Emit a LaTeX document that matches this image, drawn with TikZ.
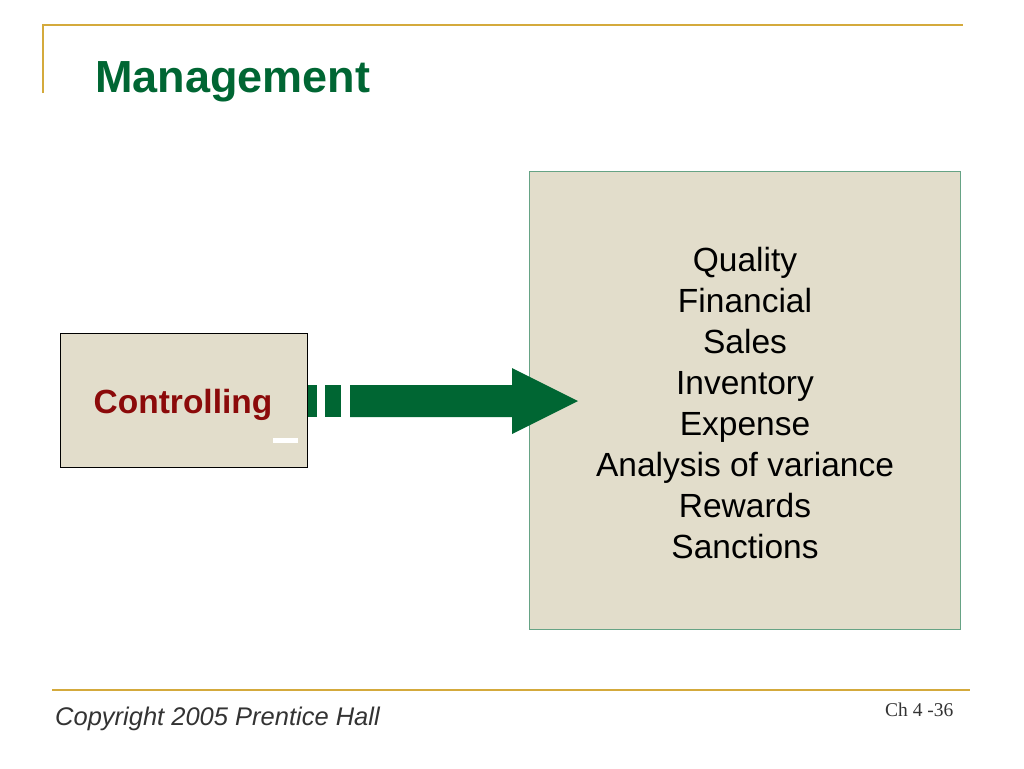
\documentclass[tikz,border=0pt]{standalone}
\usepackage{fontspec}
\setmainfont{Liberation Sans}
\newfontfamily\serifx{Liberation Serif}
\definecolor{gold}{HTML}{D4AA3C}
\definecolor{dgreen}{HTML}{006633}
\definecolor{beige}{HTML}{E2DDCB}
\definecolor{dred}{HTML}{8B0A0A}
\begin{document}
\begin{tikzpicture}[x=1pt,y=-1pt]
\useasboundingbox (0,0) rectangle (1024,768);
\draw[gold,line width=1.5] (43,93) -- (43,25) -- (963,25);
\draw[gold,line width=1.5] (52,690) -- (970,690);
\node[anchor=west,inner sep=0,text=dgreen,font=\bfseries\fontsize{45}{50}\selectfont] (title) at (95,82) {Management};
\node[draw=dgreen!60,fill=beige,minimum width=431,minimum height=458,anchor=north west] (box) at (529,171) {};
\node[anchor=center,align=center,font=\fontsize{33.5}{41}\selectfont] (list) at (745,403) {Quality\\Financial\\Sales\\Inventory\\Expense\\Analysis of variance\\Rewards\\Sanctions};
\node[draw=black,fill=beige,minimum width=247,minimum height=134,anchor=north west] (ctl) at (60,333) {};
\node[text=dred,font=\bfseries\fontsize{33.5}{38}\selectfont] (ctltext) at (183,405) {Controlling};
\fill[white] (273,438) rectangle (298,443);
\fill[dgreen] (308,385) rectangle (317,417);
\fill[dgreen] (325,385) rectangle (341,417);
\fill[dgreen] (350,385) -- (512,385) -- (512,368) -- (578,401) -- (512,434) -- (512,417) -- (350,417) -- cycle;
\node[anchor=west,inner sep=0,font=\itshape\fontsize{25.5}{28}\selectfont,text=black!80] (copy) at (55,719) {Copyright 2005 Prentice Hall};
\node[anchor=west,inner sep=0,font=\serifx\fontsize{19.5}{22}\selectfont,text=black!80] (ch) at (885,710) {Ch 4 -36};
\end{tikzpicture}
\end{document}
